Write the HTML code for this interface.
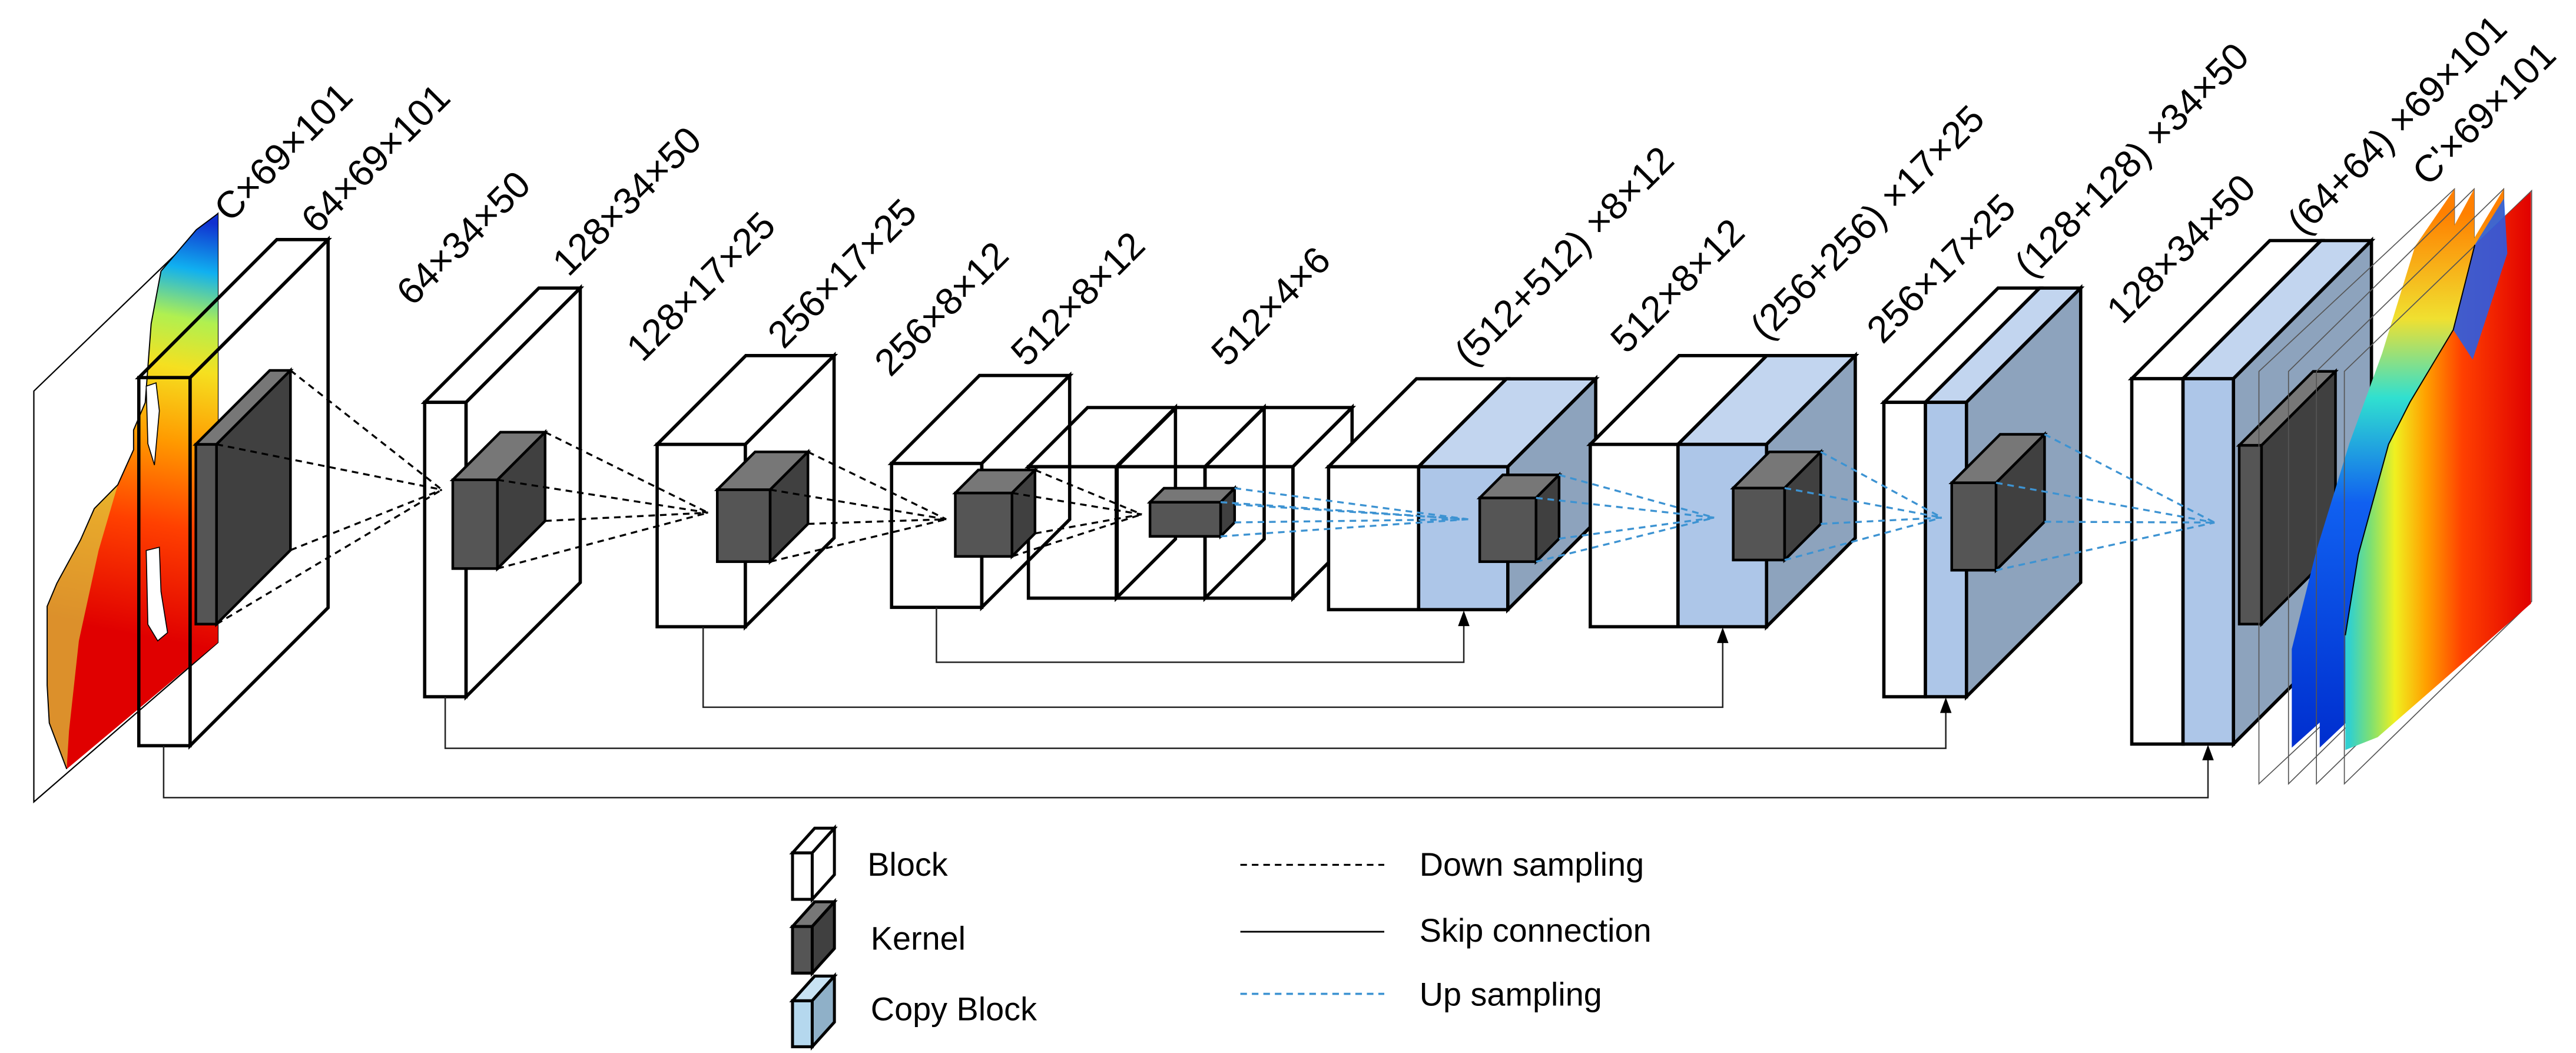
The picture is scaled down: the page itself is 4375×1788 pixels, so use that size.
<!DOCTYPE html>
<html><head><meta charset="utf-8"><style>
html,body{margin:0;padding:0;background:#fff;}
svg{display:block;}
text{font-family:"Liberation Sans",Arial,sans-serif;fill:#000;}
</style></head><body>
<svg width="4375" height="1788" viewBox="0 0 1568 640.8" xmlns="http://www.w3.org/2000/svg">
<defs>
<linearGradient id="gin" gradientUnits="userSpaceOnUse" x1="125" y1="135" x2="70" y2="430">
<stop offset="0" stop-color="#1030d0"/><stop offset="0.1" stop-color="#10b0f0"/><stop offset="0.2" stop-color="#b0f050"/><stop offset="0.3" stop-color="#f5e020"/><stop offset="0.45" stop-color="#ff9a00"/><stop offset="0.62" stop-color="#ff4000"/><stop offset="0.85" stop-color="#e00000"/>
</linearGradient>
<linearGradient id="g4" gradientUnits="userSpaceOnUse" x1="1430" y1="300" x2="1541" y2="300">
<stop offset="0" stop-color="#30d0d0"/><stop offset="0.12" stop-color="#80e070"/><stop offset="0.25" stop-color="#f0f020"/><stop offset="0.42" stop-color="#ffa000"/><stop offset="0.62" stop-color="#ff4000"/><stop offset="1" stop-color="#e00000"/>
</linearGradient>
<linearGradient id="gb" gradientUnits="userSpaceOnUse" x1="0" y1="130" x2="0" y2="450">
<stop offset="0" stop-color="#ff8000"/><stop offset="0.2" stop-color="#f0e030"/><stop offset="0.35" stop-color="#30e0d0"/><stop offset="0.55" stop-color="#1060f0"/><stop offset="1" stop-color="#0030d0"/>
</linearGradient>
</defs>

<!-- input heatmap -->
<polygon points="20.6,238 20.6,488 132.6,391 132.6,130" fill="#fff" stroke="#000" stroke-width="0.8"/>
<polygon points="132.6,130 132.6,391 40.6,468 30,440 28.7,417 28.7,369 34.6,355 49,328.6 57.4,309.5 71.7,295 81.3,273.7 81.3,261.7 88.4,245 92,197 98,165 119.5,139.8" fill="url(#gin)"/>
<polygon points="28.7,417 28.7,369 34.6,355 49,328.6 57.4,309.5 71.7,295 60,335 48,390 42,445 40.6,468 30,440" fill="#d8f048" opacity="0.6"/>
<polyline points="132.6,130 119.5,139.8 98,165 92,197 88.4,245 81.3,261.7 81.3,273.7 71.7,295 57.4,309.5 49,328.6 34.6,355 28.7,369 28.7,417 30,440 40.6,468" fill="none" stroke="#000" stroke-width="0.7"/>
<path d="M89,235 L95,233 L97,250 L94,283 L90,270 Z" fill="#fff" stroke="#000" stroke-width="0.6"/>
<path d="M89,335 L97,333 L98,360 L102,385 L96,390 L90,380 Z" fill="#fff" stroke="#000" stroke-width="0.6"/>

<g stroke="#000" stroke-width="2" stroke-linejoin="miter">
<rect x="84.5" y="229.8" width="31.2" height="224" fill="none"/>
<polygon points="84.5,229.8 168.5,145.8 199.7,145.8 115.7,229.8" fill="none"/>
<polygon points="115.7,229.8 199.7,145.8 199.7,369.8 115.7,453.8" fill="none"/>
<rect x="258.5" y="244.8" width="25.2" height="179.2" fill="#fff"/>
<polygon points="258.5,244.8 328,175.3 353.2,175.3 283.7,244.8" fill="#fff"/>
<polygon points="283.7,244.8 353.2,175.3 353.2,354.5 283.7,424" fill="#fff"/>
<rect x="400" y="270.4" width="53.7" height="111" fill="#fff"/>
<polygon points="400,270.4 454,216.4 507.7,216.4 453.7,270.4" fill="#fff"/>
<polygon points="453.7,270.4 507.7,216.4 507.7,327.4 453.7,381.4" fill="#fff"/>
<rect x="542.7" y="282" width="54.9" height="87.6" fill="#fff"/>
<polygon points="542.7,282 596.2,228.5 651.1,228.5 597.6,282" fill="#fff"/>
<polygon points="597.6,282 651.1,228.5 651.1,316.1 597.6,369.6" fill="none"/>
<rect x="626" y="284" width="53.5" height="80" fill="none"/>
<polygon points="626,284 662,248 715.5,248 679.5,284" fill="none"/>
<polygon points="679.5,284 715.5,248 715.5,328 679.5,364" fill="none"/>
<rect x="680" y="284" width="53.5" height="80" fill="none"/>
<polygon points="680,284 716,248 769.5,248 733.5,284" fill="none"/>
<polygon points="733.5,284 769.5,248 769.5,328 733.5,364" fill="none"/>
<rect x="733.5" y="284" width="53.5" height="80" fill="none"/>
<polygon points="733.5,284 769.5,248 823,248 787,284" fill="none"/>
<polygon points="787,284 823,248 823,328 787,364" fill="none"/>
<rect x="808.7" y="284" width="54.8" height="87" fill="#fff"/>
<polygon points="808.7,284 862.2,230.5 917,230.5 863.5,284" fill="#fff"/>
<rect x="863.5" y="284" width="54.3" height="87" fill="#adc6e8"/>
<polygon points="863.5,284 917,230.5 971.3,230.5 917.8,284" fill="#c2d5ef"/>
<polygon points="917.8,284 971.3,230.5 971.3,317.5 917.8,371" fill="#8da3bd"/>
<rect x="968" y="270.4" width="53.4" height="111" fill="#fff"/>
<polygon points="968,270.4 1022,216.4 1075.4,216.4 1021.4,270.4" fill="#fff"/>
<rect x="1021.4" y="270.4" width="53.9" height="111" fill="#adc6e8"/>
<polygon points="1021.4,270.4 1075.4,216.4 1129.3,216.4 1075.3,270.4" fill="#c2d5ef"/>
<polygon points="1075.3,270.4 1129.3,216.4 1129.3,327.4 1075.3,381.4" fill="#8da3bd"/>
<rect x="1146.7" y="244.8" width="25.3" height="179.2" fill="#fff"/>
<polygon points="1146.7,244.8 1216.2,175.3 1241.5,175.3 1172,244.8" fill="#fff"/>
<rect x="1172" y="244.8" width="25" height="179.2" fill="#adc6e8"/>
<polygon points="1172,244.8 1241.5,175.3 1266.5,175.3 1197,244.8" fill="#c2d5ef"/>
<polygon points="1197,244.8 1266.5,175.3 1266.5,354.5 1197,424" fill="#8da3bd"/>
<rect x="1297.6" y="230.4" width="31.2" height="222.4" fill="#fff"/>
<polygon points="1297.6,230.4 1381.6,146.4 1412.8,146.4 1328.8,230.4" fill="#fff"/>
<rect x="1328.8" y="230.4" width="30.7" height="222.4" fill="#adc6e8"/>
<polygon points="1328.8,230.4 1412.8,146.4 1443.5,146.4 1359.5,230.4" fill="#c2d5ef"/>
<polygon points="1359.5,230.4 1443.5,146.4 1443.5,368.8 1359.5,452.8" fill="#8da3bd"/>
</g>

<g stroke="#000" stroke-width="1.6">
<rect x="119.2" y="270.4" width="12.6" height="109.4" fill="#555"/>
<polygon points="119.2,270.4 164.2,225.4 176.8,225.4 131.8,270.4" fill="#777"/>
<polygon points="131.8,270.4 176.8,225.4 176.8,334.8 131.8,379.8" fill="#404040"/>
<rect x="275.6" y="292" width="27.2" height="54" fill="#555"/>
<polygon points="275.6,292 304.6,263 331.8,263 302.8,292" fill="#777"/>
<polygon points="302.8,292 331.8,263 331.8,317 302.8,346" fill="#404040"/>
<rect x="436.6" y="298" width="32.2" height="43.8" fill="#555"/>
<polygon points="436.6,298 459.6,275 491.8,275 468.8,298" fill="#777"/>
<polygon points="468.8,298 491.8,275 491.8,318.8 468.8,341.8" fill="#404040"/>
<rect x="581.5" y="300" width="34.5" height="38.6" fill="#555"/>
<polygon points="581.5,300 595.5,286 630,286 616,300" fill="#777"/>
<polygon points="616,300 630,286 630,324.6 616,338.6" fill="#404040"/>
<rect x="700" y="305.6" width="43" height="20.8" fill="#555"/>
<polygon points="700,305.6 708.5,297.1 751.5,297.1 743,305.6" fill="#777"/>
<polygon points="743,305.6 751.5,297.1 751.5,317.9 743,326.4" fill="#404040"/>
<rect x="900.7" y="303" width="34.3" height="38.8" fill="#555"/>
<polygon points="900.7,303 914.7,289 949,289 935,303" fill="#777"/>
<polygon points="935,303 949,289 949,327.8 935,341.8" fill="#404040"/>
<rect x="1055" y="297" width="31.3" height="43.8" fill="#555"/>
<polygon points="1055,297 1077,275 1108.3,275 1086.3,297" fill="#777"/>
<polygon points="1086.3,297 1108.3,275 1108.3,318.8 1086.3,340.8" fill="#404040"/>
<rect x="1188" y="293.8" width="27" height="53.2" fill="#555"/>
<polygon points="1188,293.8 1217.5,264.3 1244.5,264.3 1215,293.8" fill="#777"/>
<polygon points="1215,293.8 1244.5,264.3 1244.5,317.5 1215,347" fill="#404040"/>
<rect x="1363" y="271" width="13.6" height="108.8" fill="#555"/>
<polygon points="1363,271 1408,226 1421.6,226 1376.6,271" fill="#777"/>
<polygon points="1376.6,271 1421.6,226 1421.6,334.8 1376.6,379.8" fill="#404040"/>
</g>

<g stroke="#000" stroke-width="1.2" stroke-dasharray="4,3" fill="none">
<path d="M176.8,225.4L269,298M131.8,270.4L269,298M176.8,334.8L269,298M131.8,379.8L269,298"/>
<path d="M331.8,263L431,312M302.8,292L431,312M331.8,317L431,312M302.8,346L431,312"/>
<path d="M491.8,275L576,316M468.8,298L576,316M491.8,318.8L576,316M468.8,341.8L576,316"/>
<path d="M630,286L695,313M616,300L695,313M630,324.6L695,313M616,338.6L695,313"/>
</g>
<g stroke="#3d93d2" stroke-width="1.2" stroke-dasharray="4,3" fill="none">
<path d="M751.5,297.1L893.7,316M743,305.6L893.7,316M751.5,317.9L893.7,316M743,326.4L893.7,316M751.5,307L893.7,316"/>
<path d="M949,289L1043.6,315M935,303L1043.6,315M949,327.8L1043.6,315M935,341.8L1043.6,315"/>
<path d="M1108.3,275L1182,315M1086.3,297L1182,315M1108.3,318.8L1182,315M1086.3,340.8L1182,315"/>
<path d="M1244.5,264.3L1348,318M1215,293.8L1348,318M1244.5,317.5L1348,318M1215,347L1348,318"/>
</g>

<g stroke="#222" stroke-width="0.9" fill="none">
<polyline points="570,369.6 570,403 891,403 891,380"/>
<polyline points="428,381.4 428,430.4 1048.6,430.4 1048.6,390"/>
<polyline points="271,424 271,455.4 1184.4,455.4 1184.4,433"/>
<polyline points="99.6,453.8 99.6,485.4 1344,485.4 1344,462"/>
</g>
<g fill="#000">
<polygon points="891,371.5 887.5,381 894.5,381"/>
<polygon points="1048.6,381.8 1045.1,391.3 1052.1,391.3"/>
<polygon points="1184.4,424.4 1180.9,433.9 1187.9,433.9"/>
<polygon points="1344,453.2 1340.5,462.7 1347.5,462.7"/>
</g>

<g stroke="#555" stroke-width="0.6" fill="none">
<polygon points="1375,226 1375,477 1494,366 1494,115"/>
<polygon points="1395,455 1395,395 1410,335 1430,270 1450,215 1470,150 1494,115 1494,366" fill="url(#gb)" stroke="none"/>
<polygon points="1393,226 1393,477 1506,366 1506,115"/>
<polygon points="1412,455 1412,395 1427,335 1447,270 1467,215 1487,150 1506,115 1506,366" fill="url(#gb)" stroke="none"/>
<polygon points="1410,226 1410,477 1524,366 1524,115"/>
<polygon points="1428,455 1428,395 1443,335 1463,270 1483,215 1503,150 1524,115 1524,366" fill="url(#gb)" stroke="none"/>
<polygon points="1427,226 1427,477 1541,366 1541,116"/>
<polygon points="1427.6,456.4 1427.6,386.6 1435.5,337.6 1453.9,270.4 1467,244.6 1493.3,200.7 1506.4,149 1540.6,116.7 1540.6,367.3 1447.3,448.6" fill="url(#g4)" stroke="none"/>
<polygon points="1506.4,149 1524.2,120.6 1526.2,154.2 1505.1,218.8 1493.3,200.7" fill="#2060f0" stroke="none" opacity="0.85"/>
<polyline points="1427.6,386.6 1435.5,337.6 1453.9,270.4 1467,244.6 1493.3,200.7 1506.4,149" stroke="#000" stroke-width="0.7"/>
</g>

<g font-size="23">
<text transform="translate(140,136) rotate(-45)">C×69×101</text>
<text transform="translate(193,143) rotate(-45)">64×69×101</text>
<text transform="translate(251,187) rotate(-45)">64×34×50</text>
<text transform="translate(346,169) rotate(-45)">128×34×50</text>
<text transform="translate(391,221) rotate(-45)">128×17×25</text>
<text transform="translate(477,213) rotate(-45)">256×17×25</text>
<text transform="translate(542,230) rotate(-45)">256×8×12</text>
<text transform="translate(625,224) rotate(-45)">512×8×12</text>
<text transform="translate(747,224) rotate(-45)">512×4×6</text>
<text transform="translate(895,224) rotate(-45)">(512+512) ×8×12</text>
<text transform="translate(990,216) rotate(-45)">512×8×12</text>
<text transform="translate(1075,208) rotate(-45)">(256+256) ×17×25</text>
<text transform="translate(1146,210) rotate(-45)">256×17×25</text>
<text transform="translate(1236,170) rotate(-45)">(128+128) ×34×50</text>
<text transform="translate(1292,198) rotate(-45)">128×34×50</text>
<text transform="translate(1402,144) rotate(-45)">(64+64) ×69×101</text>
<text transform="translate(1478,114) rotate(-45)">C'×69×101</text>
</g>

<g stroke="#000" stroke-width="1.8">
<rect x="482.4" y="519" width="12" height="28.3" fill="#fff"/>
<polygon points="482.4,519 495.9,504 507.9,504 494.4,519" fill="#fff"/>
<polygon points="494.4,519 507.9,504 507.9,532.3 494.4,547.3" fill="#fff"/>
<rect x="482.4" y="563.8" width="12" height="28.4" fill="#555"/>
<polygon points="482.4,563.8 495.9,548.8 507.9,548.8 494.4,563.8" fill="#777"/>
<polygon points="494.4,563.8 507.9,548.8 507.9,577.2 494.4,592.2" fill="#404040"/>
<rect x="482.4" y="609" width="12" height="28" fill="#b5d8ee"/>
<polygon points="482.4,609 495.9,594 507.9,594 494.4,609" fill="#c8e2f3"/>
<polygon points="494.4,609 507.9,594 507.9,622 494.4,637" fill="#8fb0c8"/>
</g>
<g font-size="20">
<text x="528" y="533">Block</text>
<text x="530" y="578">Kernel</text>
<text x="530" y="621">Copy Block</text>
<text x="864" y="533">Down sampling</text>
<text x="864" y="573">Skip connection</text>
<text x="864" y="612">Up sampling</text>
</g>
<line x1="755" y1="526.3" x2="842.6" y2="526.3" stroke="#000" stroke-width="1.2" stroke-dasharray="4,3"/>
<line x1="755" y1="567" x2="842.6" y2="567" stroke="#000" stroke-width="1"/>
<line x1="755" y1="604.8" x2="842.6" y2="604.8" stroke="#3d93d2" stroke-width="1.3" stroke-dasharray="4,3"/>
</svg>
</body></html>
